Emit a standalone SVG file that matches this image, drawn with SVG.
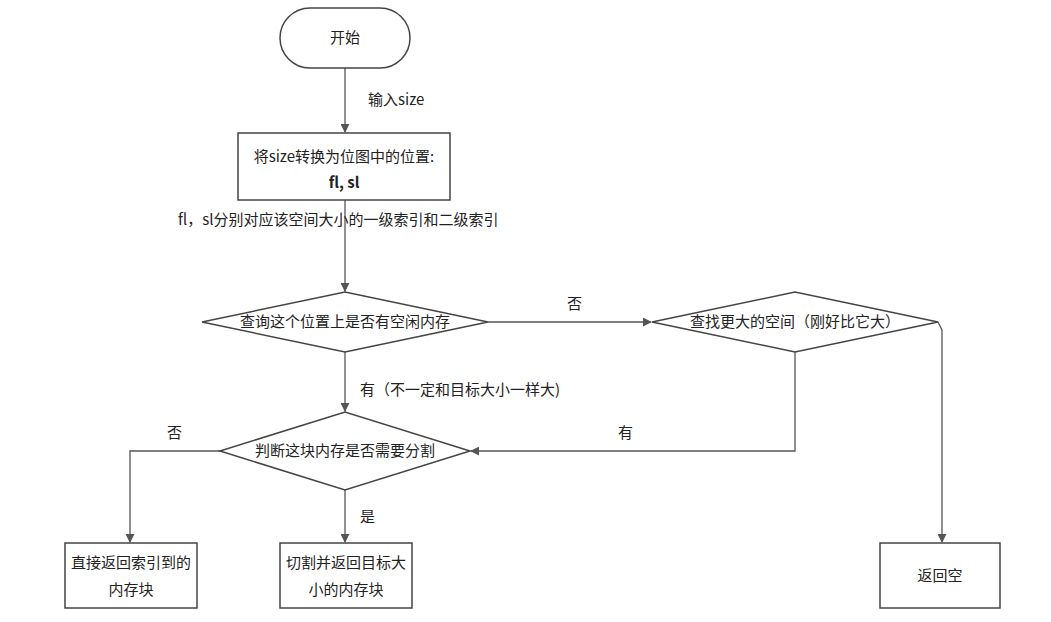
<svg xmlns="http://www.w3.org/2000/svg" width="1051" height="622" viewBox="0 0 1051 622">
<style>
.n{fill:#fff;stroke:#444;stroke-width:1.5}
.c{fill:none;stroke:#555;stroke-width:1.3}
text{font-family:"Noto Sans CJK SC","Noto Sans",sans-serif;font-size:15px;fill:#222}
.m{text-anchor:middle}
</style>
<defs><marker id="a" viewBox="0 0 10 10" refX="9" refY="5" markerWidth="9" markerHeight="9" markerUnits="userSpaceOnUse" orient="auto"><path d="M0,0L10,5L0,10z" fill="#555"/></marker></defs>
<rect width="1051" height="622" fill="#fff"/>
<g id="connectors">
<path class="c" d="M345,68V132" marker-end="url(#a)"/>
<path class="c" d="M345,200V291" marker-end="url(#a)"/>
<path class="c" d="M488,322H651" marker-end="url(#a)"/>
<path class="c" d="M345,352V411" marker-end="url(#a)"/>
<path class="c" d="M795,352V451H471" marker-end="url(#a)"/>
<path class="c" d="M938,322L942,330V542" marker-end="url(#a)"/>
<path class="c" d="M220,451H130V542" marker-end="url(#a)"/>
<path class="c" d="M345,490V542" marker-end="url(#a)"/>
<text x="368" y="105">输入size</text>
<text x="178" y="225">fl，sl分别对应该空间大小的一级索引和二级索引</text>
<text x="567" y="309">否</text>
<text x="360" y="395">有（不一定和目标大小一样大)</text>
<text x="618" y="438">有</text>
<text x="167" y="438">否</text>
<text x="360" y="522">是</text>
</g>
<g id="start"><rect class="n" x="280" y="8" width="130" height="60" rx="30"/><text class="m" x="345" y="43">开始</text></g>
<g id="convert"><rect class="n" x="238" y="133" width="212" height="67"/><text class="m" x="344" y="162">将size转换为位图中的位置:</text><text class="m" x="344" y="188" font-weight="bold">fl, sl</text></g>
<g id="query"><polygon class="n" points="202,322 345,292 488,322 345,352"/><text class="m" x="345" y="327">查询这个位置上是否有空闲内存</text></g>
<g id="find"><polygon class="n" points="652,322 795,292 938,322 795,352"/><text class="m" x="795" y="327">查找更大的空间（刚好比它大）</text></g>
<g id="judge"><polygon class="n" points="220,451 345,412 470,451 345,490"/><text class="m" x="345" y="456">判断这块内存是否需要分割</text></g>
<g id="direct"><rect class="n" x="65" y="543" width="132" height="65"/><text class="m" x="131" y="568">直接返回索引到的</text><text class="m" x="131" y="595">内存块</text></g>
<g id="cut"><rect class="n" x="280" y="543" width="132" height="65"/><text class="m" x="346" y="568">切割并返回目标大</text><text class="m" x="346" y="595">小的内存块</text></g>
<g id="null"><rect class="n" x="880" y="543" width="120" height="65"/><text class="m" x="940" y="581">返回空</text></g>
</svg>
